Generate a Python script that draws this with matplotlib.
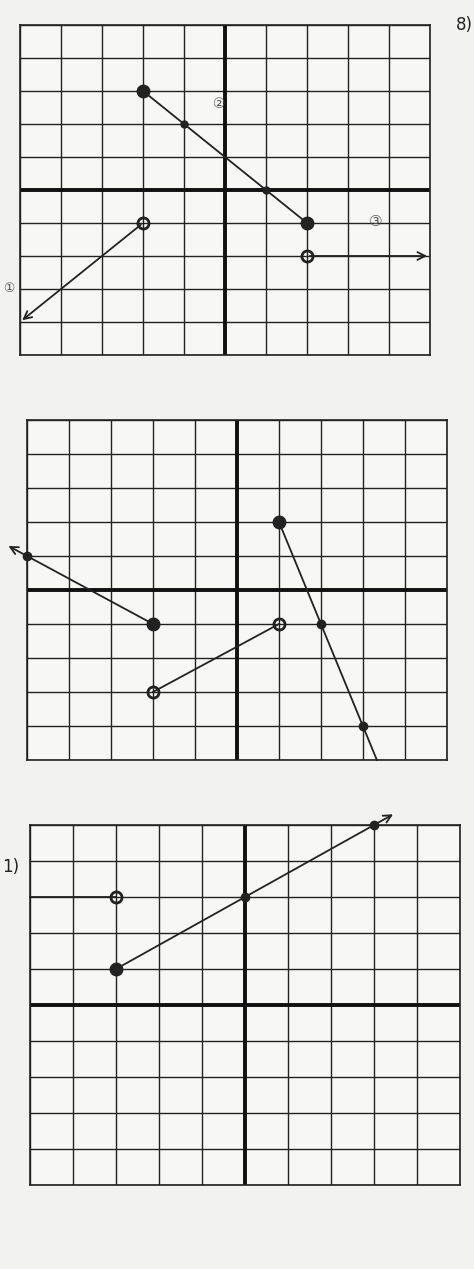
import matplotlib
matplotlib.use("Agg")
import matplotlib.pyplot as plt
import numpy as np

W, H = 474, 1269
boxes = [(20, 25, 430, 355), (27, 420, 447, 760), (30, 825, 460, 1185)]

# Panel 1 pieces
p1_ray_x = [-2, -5]; p1_ray_y = [-1, -4]
p1_seg_x = [-2, 2]; p1_seg_y = [3, -1]
p1_hor_x = [2, 5]; p1_hor_y = [-2, -2]
p1_dots_x = [-1, 1]; p1_dots_y = [2, 0]
# Panel 2 pieces
p2_ray_x = [-5.5, -2]; p2_ray_y = [4/3, -1]
p2_seg_x = [-2, 1]; p2_seg_y = [-3, -1]
p2_line_x = [1, 3.33]; p2_line_y = [2, -5]
p2_dots_x = [-5, 2, 3]; p2_dots_y = [1, -1, -4]
# Panel 3 pieces
p3_hor_x = [-5, -3]; p3_hor_y = [3, 3]
p3_line_x = [-3, 3.5]; p3_line_y = [1, 16/3]
p3_dots_x = [0, 3]; p3_dots_y = [3, 5]

fig = plt.figure(figsize=(W/100, H/100), dpi=100)
fig.patch.set_facecolor("#f2f2f0")
axes = []
for (l, t, r, b) in boxes:
    ax = fig.add_axes([l/W, 1-b/H, (r-l)/W, (b-t)/H])
    ax.set_facecolor("#f7f7f5")
    ax.set_xlim(-5, 5); ax.set_ylim(-5, 5)
    ax.set_xticks(np.arange(-5, 6)); ax.set_yticks(np.arange(-5, 6))
    ax.tick_params(length=0, labelbottom=False, labelleft=False)
    ax.grid(True, color="#222", lw=1.0)
    ax.axhline(0, color="#111", lw=2.8); ax.axvline(0, color="#111", lw=2.8)
    for s in ax.spines.values():
        s.set_color("#222"); s.set_linewidth(1.2)
    axes.append(ax)

def seg(ax, x, y, arrow=False):
    if arrow:
        ax.annotate("", xy=(x[1], y[1]), xytext=(x[0], y[0]), annotation_clip=False,
                    arrowprops=dict(arrowstyle="->", color="#222", lw=1.3, mutation_scale=14))
    else:
        ax.plot(x, y, color="#222", lw=1.3, clip_on=False)

def dot(ax, x, y, filled=True):
    ax.plot([x], [y], "o", ms=8, mfc="#222" if filled else "none", mec="#222", mew=2, clip_on=False)

a1, a2, a3 = axes
seg(a1, p1_ray_x, p1_ray_y, True); dot(a1, -2, -1, False)
seg(a1, p1_seg_x, p1_seg_y); dot(a1, -2, 3); dot(a1, 2, -1)
for x, y in zip(p1_dots_x, p1_dots_y):
    a1.plot([x], [y], "o", ms=5, color="#222")
seg(a1, p1_hor_x, p1_hor_y, True); dot(a1, 2, -2, False)
a1.text(-0.3, 2.5, "②", fontsize=10, color="#555")
a1.text(3.5, -1.1, "③", fontsize=11, color="#555")
a1.text(-5.42, -3.1, "①", fontsize=9, color="#555")

seg(a2, p2_ray_x[::-1], p2_ray_y[::-1], True); dot(a2, -2, -1)
seg(a2, p2_seg_x, p2_seg_y); dot(a2, -2, -3, False); dot(a2, 1, -1, False)
seg(a2, p2_line_x, p2_line_y); dot(a2, 1, 2)
for x, y in zip(p2_dots_x, p2_dots_y):
    a2.plot([x], [y], "o", ms=6, color="#222", clip_on=False)

seg(a3, p3_hor_x, p3_hor_y); dot(a3, -3, 3, False)
seg(a3, p3_line_x, p3_line_y, True); dot(a3, -3, 1)
for x, y in zip(p3_dots_x, p3_dots_y):
    a3.plot([x], [y], "o", ms=6, color="#222", clip_on=False)

fig.text(456/W, 1-30/H, "8)", fontsize=12, color="#222")
fig.text(2/W, 1-872/H, "1)", fontsize=12, color="#222")
fig.savefig("out.png", dpi=100, facecolor=fig.get_facecolor())
